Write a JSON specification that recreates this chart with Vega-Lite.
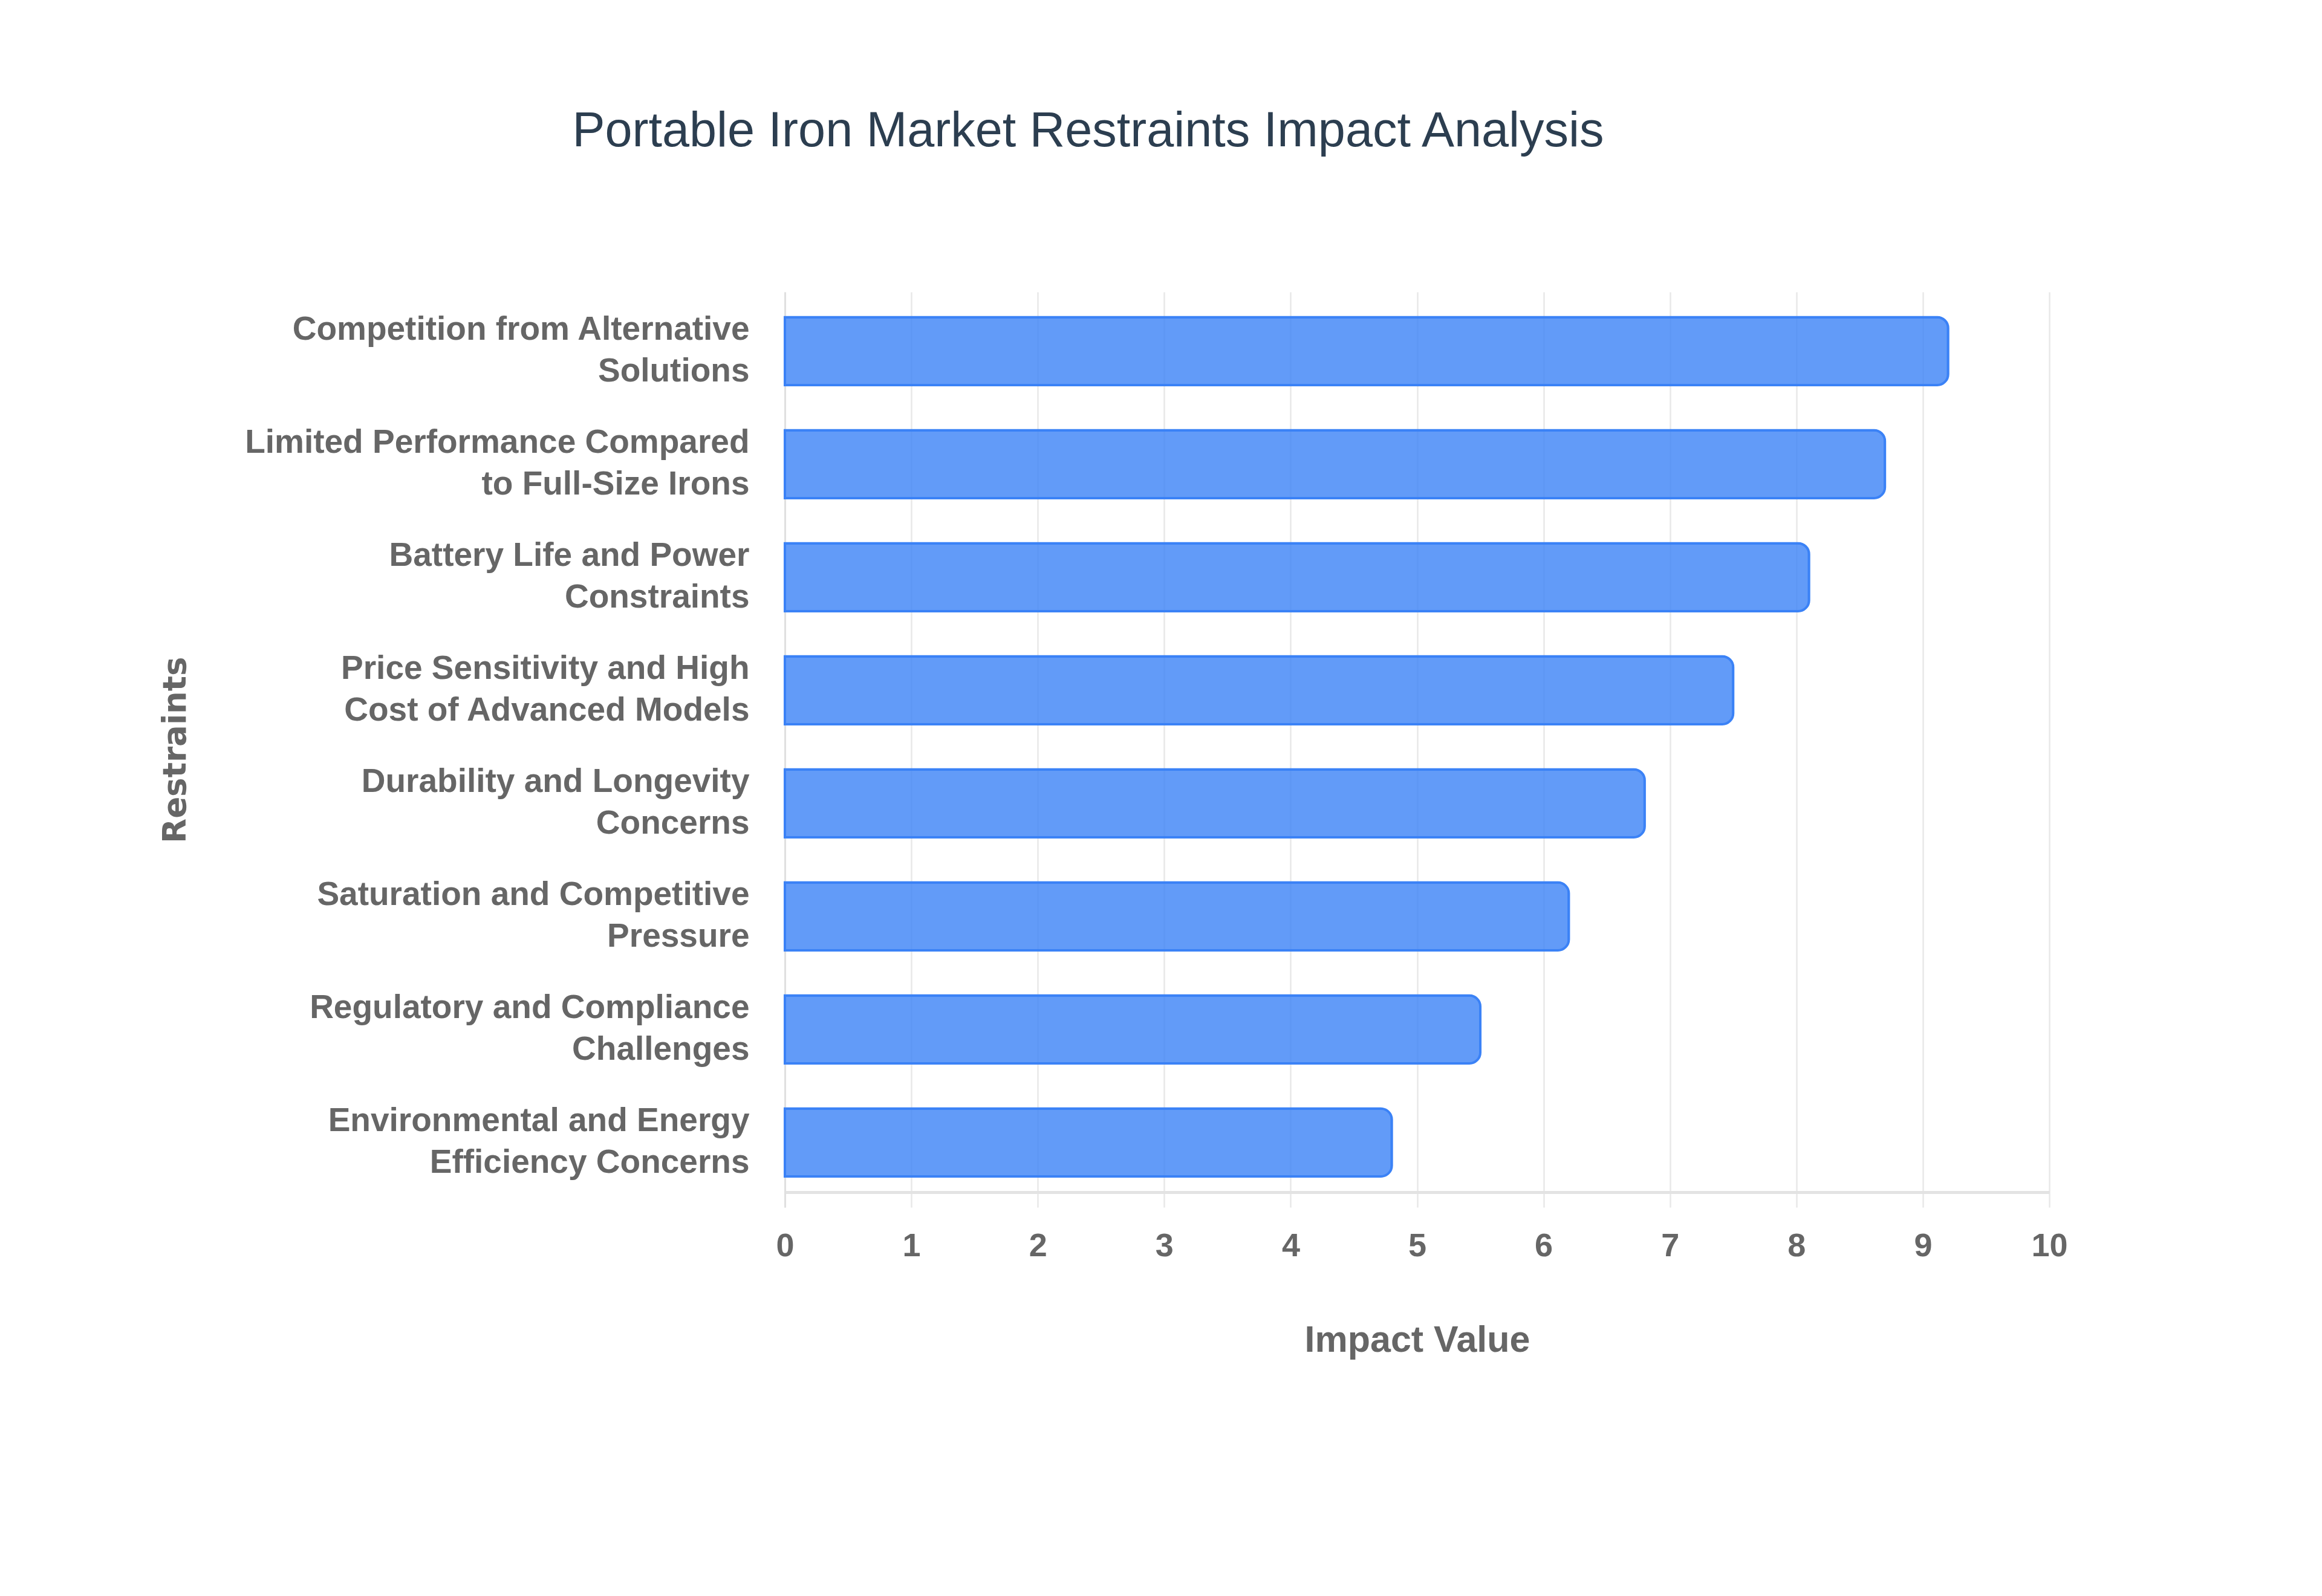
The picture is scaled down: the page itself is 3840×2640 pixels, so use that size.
{
  "$schema": "https://vega.github.io/schema/vega-lite/v6.json",
  "autosize": {"type": "none"},
  "width": 2091,
  "height": 1514,
  "padding": {"left": 1298, "top": 483, "right": 451, "bottom": 643},
  "background": "white",
  "title": {
    "text": "Portable Iron Market Restraints Impact Analysis",
    "anchor": "middle",
    "frame": "group",
    "dx": -544,
    "offset": 224,
    "font": "Liberation Sans",
    "fontSize": 81,
    "fontWeight": "normal",
    "color": "#2c3e50"
  },
  "data": {
    "values": [
      {"restraint": "Competition from Alternative Solutions", "impact": 9.2},
      {"restraint": "Limited Performance Compared to Full-Size Irons", "impact": 8.7},
      {"restraint": "Battery Life and Power Constraints", "impact": 8.1},
      {"restraint": "Price Sensitivity and High Cost of Advanced Models", "impact": 7.5},
      {"restraint": "Durability and Longevity Concerns", "impact": 6.8},
      {"restraint": "Saturation and Competitive Pressure", "impact": 6.2},
      {"restraint": "Regulatory and Compliance Challenges", "impact": 5.5},
      {"restraint": "Environmental and Energy Efficiency Concerns", "impact": 4.8}
    ]
  },
  "mark": {
    "type": "bar",
    "color": "#3b82f6",
    "fillOpacity": 0.8,
    "stroke": "#3b82f6",
    "strokeWidth": 4,
    "cornerRadiusEnd": 18
  },
  "encoding": {
    "y": {
      "field": "restraint",
      "type": "nominal",
      "sort": {"field": "impact", "order": "descending"},
      "scale": {"paddingInner": 0.4, "paddingOuter": 0.248, "align": 0.45},
      "axis": {
        "title": "Restraints",
        "titleFont": "DejaVu Sans",
        "titleFontSize": 53,
        "titleFontWeight": "bold",
        "titleColor": "#666666",
        "titlePadding": 0,
        "titleX": -981,
        "labelFont": "Liberation Sans",
        "labelFontSize": 55,
        "labelFontWeight": "bold",
        "labelColor": "#666666",
        "labelPadding": 59,
        "labelLimit": 1200,
        "labelLineHeight": 69,
        "labelOffset": -36,
        "labelExpr": "split(trim(replace(datum.label, regexp('(.{1,28})(\\\\s|$)', 'g'), '$1\\n')), '\\n')",
        "ticks": false,
        "domain": true,
        "domainColor": "#e0e0e0",
        "domainWidth": 3,
        "grid": false
      }
    },
    "x": {
      "field": "impact",
      "type": "quantitative",
      "scale": {"domain": [0, 10], "nice": false},
      "axis": {
        "title": "Impact Value",
        "titleFont": "Liberation Sans",
        "titleFontSize": 61,
        "titleFontWeight": "bold",
        "titleColor": "#666666",
        "titlePadding": 99,
        "labelFont": "Liberation Sans",
        "labelFontSize": 54,
        "labelFontWeight": "bold",
        "labelColor": "#666666",
        "labelPadding": 62,
        "labelOverlap": false,
        "labelFlush": false,
        "values": [0, 1, 2, 3, 4, 5, 6, 7, 8, 9, 10],
        "offset": -25,
        "ticks": false,
        "domain": true,
        "domainColor": "#e3e3e3",
        "domainWidth": 5,
        "grid": true,
        "gridColor": "#e8e8e8",
        "gridWidth": 2.5
      }
    }
  },
  "config": {
    "view": {"stroke": null}
  }
}
